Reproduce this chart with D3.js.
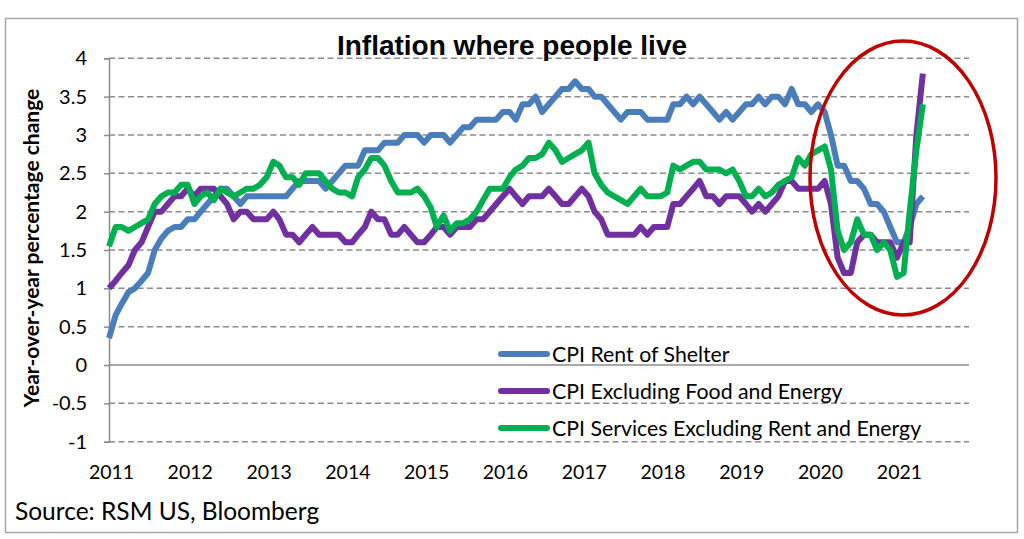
<!DOCTYPE html>
<html>
<head>
<meta charset="utf-8">
<script src="https://cdn.jsdelivr.net/npm/d3@7"></script>
<style>
  html, body { margin: 0; padding: 0; background: #fff; }
  svg { display: block; }
</style>
</head>
<body>
<div id="chart"></div>
<script>
// Monthly year-over-year % change, Jan 2011 .. May 2021
var startMonth = "2011-01";

var rentOfShelter = [
  0.35, 0.65, 0.8, 0.95, 1.0, 1.1, 1.2, 1.5, 1.65, 1.75, 1.8, 1.8,
  1.9, 1.9, 2.0, 2.1, 2.2, 2.3, 2.3, 2.2, 2.1, 2.2, 2.2, 2.2,
  2.2, 2.2, 2.2, 2.2, 2.3, 2.4, 2.4, 2.4, 2.4, 2.3, 2.4, 2.5,
  2.6, 2.6, 2.6, 2.8, 2.8, 2.8, 2.9, 2.9, 2.9, 3.0, 3.0, 3.0,
  2.9, 3.0, 3.0, 3.0, 2.9, 3.0, 3.1, 3.1, 3.2, 3.2, 3.2, 3.2,
  3.3, 3.3, 3.2, 3.4, 3.4, 3.5, 3.3, 3.4, 3.5, 3.6, 3.6, 3.7,
  3.6, 3.6, 3.5, 3.5, 3.4, 3.3, 3.2, 3.3, 3.3, 3.3, 3.2, 3.2,
  3.2, 3.2, 3.4, 3.4, 3.5, 3.4, 3.5, 3.4, 3.3, 3.2, 3.3, 3.2,
  3.3, 3.4, 3.4, 3.5, 3.4, 3.5, 3.5, 3.4, 3.6, 3.4, 3.4, 3.3,
  3.4, 3.3, 3.0, 2.6, 2.6, 2.4, 2.4, 2.3, 2.1, 2.1, 2.0, 1.8,
  1.6, 1.6, 1.8, 2.1, 2.2
];

var coreCpi = [
  1.0, 1.1, 1.2, 1.3, 1.5, 1.6, 1.8, 2.0, 2.0, 2.1, 2.2, 2.2,
  2.3, 2.2, 2.3, 2.3, 2.3, 2.2, 2.1, 1.9, 2.0, 2.0, 1.9, 1.9,
  1.9, 2.0, 1.9, 1.7, 1.7, 1.6, 1.7, 1.8, 1.7, 1.7, 1.7, 1.7,
  1.6, 1.6, 1.7, 1.8, 2.0, 1.9, 1.9, 1.7, 1.7, 1.8, 1.7, 1.6,
  1.6, 1.7, 1.8, 1.8, 1.7, 1.8, 1.8, 1.8, 1.9, 1.9, 2.0, 2.1,
  2.2, 2.3, 2.2, 2.1, 2.2, 2.2, 2.2, 2.3, 2.2, 2.1, 2.1, 2.2,
  2.3, 2.2, 2.0, 1.9, 1.7, 1.7, 1.7, 1.7, 1.7, 1.8, 1.7, 1.8,
  1.8, 1.8, 2.1, 2.1, 2.2, 2.3, 2.4, 2.2, 2.2, 2.1, 2.2, 2.2,
  2.2, 2.1, 2.0, 2.1, 2.0, 2.1, 2.2, 2.4, 2.4, 2.3, 2.3, 2.3,
  2.3, 2.4, 2.1, 1.4, 1.2, 1.2, 1.6, 1.7, 1.7, 1.6, 1.6, 1.6,
  1.4, 1.6, 1.6, 3.0, 3.8
];

var servicesExRent = [
  1.55, 1.8, 1.8, 1.75, 1.8, 1.85, 1.9, 2.1, 2.2, 2.25, 2.25, 2.35,
  2.35, 2.1, 2.2, 2.25, 2.15, 2.3, 2.25, 2.2, 2.25, 2.3, 2.3, 2.35,
  2.45, 2.65, 2.6, 2.45, 2.45, 2.35, 2.5, 2.5, 2.5, 2.4, 2.3, 2.25,
  2.25, 2.2, 2.45, 2.55, 2.7, 2.7, 2.6, 2.4, 2.25, 2.25, 2.25, 2.3,
  2.2, 2.05, 1.8, 1.95, 1.75, 1.85, 1.85, 1.9, 2.0, 2.15, 2.3, 2.3,
  2.3, 2.45, 2.55, 2.6, 2.7, 2.7, 2.75, 2.9, 2.8, 2.65, 2.7, 2.75,
  2.8, 2.9, 2.5, 2.35, 2.25, 2.2, 2.15, 2.1, 2.2, 2.3, 2.2, 2.2,
  2.2, 2.25, 2.6, 2.55, 2.6, 2.65, 2.65, 2.55, 2.55, 2.55, 2.5, 2.55,
  2.4, 2.2, 2.2, 2.3, 2.2, 2.25, 2.35, 2.4, 2.45, 2.7, 2.6, 2.75,
  2.8, 2.85, 2.55, 1.75, 1.5, 1.6, 1.9, 1.7, 1.7, 1.5, 1.6, 1.5,
  1.15, 1.2, 2.0, 2.8, 3.4
];

var seriesNames = [
  "CPI Rent of Shelter",
  "CPI Excluding Food and Energy",
  "CPI Services Excluding Rent and Energy"
];
var seriesColors = ["#4a7ebb", "#7030a0", "#00b050"];
var yTicks = [-1, -0.5, 0, 0.5, 1, 1.5, 2, 2.5, 3, 3.5, 4];
var yearTicks = [2011, 2012, 2013, 2014, 2015, 2016, 2017, 2018, 2019, 2020, 2021];

var W = 1024, H = 539;
var bodyFont = "Lato, 'Open Sans', sans-serif";

var svg = d3.select("#chart").append("svg")
  .attr("width", W)
  .attr("height", H);

// outer frame
svg.append("rect")
  .attr("x", 5.5).attr("y", 18.5)
  .attr("width", 1012).attr("height", 514)
  .attr("fill", "none")
  .attr("stroke", "#a6a6a6")
  .attr("stroke-width", 1.5);

var parseMonth = d3.timeParse("%Y-%m");
var firstDate = parseMonth(startMonth);
var dates = rentOfShelter.map(function (d, i) {
  return d3.timeMonth.offset(firstDate, i);
});

var x = d3.scaleTime()
  .domain([new Date(2011, 0, 1), new Date(2021, 11, 1)])
  .range([109, 969]);

var y = d3.scaleLinear()
  .domain([-1, 4])
  .range([441.7, 58.3]);

// dashed gridlines
svg.append("g")
  .selectAll("line")
  .data(yTicks.filter(function (d) { return d !== 0; }))
  .enter()
  .append("line")
  .attr("x1", 109).attr("x2", 969)
  .attr("y1", function (d) { return y(d); })
  .attr("y2", function (d) { return y(d); })
  .attr("stroke", "#8c8c8c")
  .attr("stroke-width", 1.5)
  .attr("stroke-dasharray", "6,3.5");

// zero line (category axis)
svg.append("line")
  .attr("x1", 109).attr("x2", 969)
  .attr("y1", y(0)).attr("y2", y(0))
  .attr("stroke", "#8c8c8c")
  .attr("stroke-width", 1.5);

// y axis
var yAxis = d3.axisLeft(y)
  .tickValues(yTicks)
  .tickSize(5)
  .tickPadding(17)
  .tickFormat(function (d) { return String(d); });

var yAxisG = svg.append("g")
  .attr("transform", "translate(109,0)")
  .call(yAxis);
yAxisG.select(".domain").attr("stroke", "#8c8c8c").attr("stroke-width", 1.5);
yAxisG.selectAll(".tick line").attr("stroke", "#8c8c8c").attr("stroke-width", 1.5);
yAxisG.selectAll("text")
  .attr("fill", "#000")
  .style("font-family", bodyFont)
  .style("font-size", "20px");

// x labels (axis sits at bottom, labels only)
var xAxis = d3.axisBottom(x)
  .tickValues(yearTicks.map(function (yr) { return new Date(yr, 0, 1); }))
  .tickSize(0)
  .tickPadding(0)
  .tickFormat(d3.timeFormat("%Y"));

var xAxisG = svg.append("g")
  .attr("transform", "translate(2," + (y(-1) + 23) + ")")
  .call(xAxis);
xAxisG.select(".domain").remove();
xAxisG.selectAll("text")
  .attr("fill", "#000")
  .style("font-family", bodyFont)
  .style("font-size", "19.5px");

// series lines
var seriesData = [rentOfShelter, coreCpi, servicesExRent];
var line = d3.line()
  .x(function (d, i) { return x(dates[i]); })
  .y(function (d) { return y(d); });

svg.append("g")
  .selectAll("path")
  .data(seriesData)
  .enter()
  .append("path")
  .attr("d", line)
  .attr("fill", "none")
  .attr("stroke", function (d, i) { return seriesColors[i]; })
  .attr("stroke-width", 6)
  .attr("stroke-linejoin", "round")
  .attr("stroke-linecap", "butt");

// legend
var legend = svg.append("g")
  .selectAll("g")
  .data(seriesNames)
  .enter()
  .append("g")
  .attr("transform", function (d, i) { return "translate(498," + (354 + i * 37) + ")"; });

legend.append("line")
  .attr("x1", 3).attr("x2", 49)
  .attr("y1", 0).attr("y2", 0)
  .attr("stroke", function (d, i) { return seriesColors[i]; })
  .attr("stroke-width", 6)
  .attr("stroke-linecap", "round");

legend.append("text")
  .attr("x", 54)
  .attr("y", 7.5)
  .style("font-family", bodyFont)
  .style("font-size", "21.3px")
  .text(function (d) { return d; });

// highlight ellipse
svg.append("ellipse")
  .attr("cx", 903).attr("cy", 178)
  .attr("rx", 93).attr("ry", 137)
  .attr("fill", "none")
  .attr("stroke", "#c00000")
  .attr("stroke-width", 3.5);

// title
svg.append("text")
  .attr("x", 512)
  .attr("y", 55)
  .attr("text-anchor", "middle")
  .style("font-family", "'Liberation Sans Narrow', 'Arial Narrow', sans-serif")
  .style("font-weight", "bold")
  .style("font-size", "28px")
  .text("Inflation where people live");

// y axis title
svg.append("text")
  .attr("transform", "translate(39,248) rotate(-90)")
  .attr("text-anchor", "middle")
  .style("font-family", bodyFont)
  .style("font-weight", "bold")
  .style("font-size", "21px")
  .text("Year-over-year percentage change");

// source
svg.append("text")
  .attr("x", 15)
  .attr("y", 520)
  .style("font-family", bodyFont)
  .style("font-size", "24.5px")
  .text("Source: RSM US, Bloomberg");
</script>
</body>
</html>
